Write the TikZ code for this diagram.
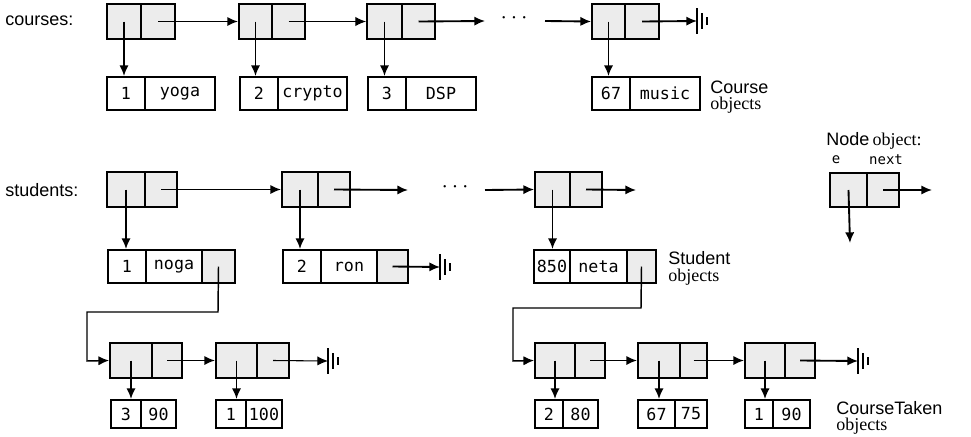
\documentclass[tikz,border=0pt]{standalone}
\usepackage{fontspec}
\setmainfont{Liberation Serif}
\newfontfamily\sans{Liberation Sans}
\newfontfamily\mono{DejaVu Sans Mono}
\usetikzlibrary{arrows.meta}
\newcommand\cellbox[7]{\node[draw,line width=1.4pt,fill=#6,inner sep=0pt,minimum width={(#3-#2)*0.75pt},minimum height={(#5-#4)*0.75pt},font=\mono\fontsize{12.5}{12.5}\selectfont] (#1) at ({(#2+#3)/2},{(#4+#5)/2}) {#7};}
\newcommand\gnd[3]{\coordinate (#1) at (#2,#3);
 \draw[line width=1pt] (#2,#3-13) -- (#2,#3+13) (#2+5,#3-8) -- (#2+5,#3+8) (#2+10,#3-4) -- (#2+10,#3+4);}
\tikzset{ar/.style={line width=1.4pt,-{Latex[length=8pt,width=7pt]}},
 lbl/.style={font=\sans\fontsize{13.5}{13.5}\selectfont,anchor=west,inner sep=0pt},
 obj/.style={font=\fontsize{13.5}{13.5}\selectfont,anchor=west,inner sep=0pt},
 dots/.style={font=\fontsize{18}{18}\selectfont,inner sep=0pt}}
\colorlet{cf}{gray!15}
\begin{document}
\begin{tikzpicture}[x=0.75pt,y=-0.75pt]
\useasboundingbox (0,0) rectangle (971,436);
% courses
\node[lbl] (lc) at (5,21) {courses:};
\cellbox{c1e}{107}{141}{4}{39}{cf}{}\cellbox{c1n}{141}{175}{4}{39}{cf}{}
\cellbox{c2e}{239}{272}{4}{39}{cf}{}\cellbox{c2n}{272}{305}{4}{39}{cf}{}
\cellbox{c3e}{367}{402}{4}{39}{cf}{}\cellbox{c3n}{402}{435}{4}{39}{cf}{}
\node[dots] (cd) at (514,18) {$\cdots$};
\cellbox{c4e}{592}{625}{4}{39}{cf}{}\cellbox{c4n}{625}{659}{4}{39}{cf}{}
\gnd{cg}{697}{21}
\draw[ar] (c1n.center) -- (c2e.west);
\draw[ar,line width=0.8pt] (c2n.center) -- (c3e.west);
\draw[ar] (c3n.center) -- (485,21);
\draw[ar] (545,21) -- (c4e.west);
\draw[ar] (c4n.center) -- (cg);
\cellbox{o1a}{107}{145}{77}{110}{white}{1}\cellbox{o1b}{145}{215}{77}{110}{white}{yoga}
\cellbox{o2a}{240}{278}{77}{110}{white}{2}\cellbox{o2b}{278}{347}{77}{110}{white}{crypto}
\cellbox{o3a}{368}{406}{77}{110}{white}{3}\cellbox{o3b}{406}{476}{77}{110}{white}{DSP}
\cellbox{o4a}{592}{630}{77}{110}{white}{67}\cellbox{o4b}{630}{700}{77}{110}{white}{music}
\draw[ar] (c1e.center) -- (c1e.center |- o1a.north);
\draw[ar] (c2e.center) -- (c2e.center |- o2a.north);
\draw[ar] (c3e.center) -- (c3e.center |- o3a.north);
\draw[ar] (c4e.center) -- (c4e.center |- o4a.north);
\node[lbl] (tc1) at (710,87) {Course};
\node[obj] (tc2) at (710,105) {objects};
% students
\node[lbl] (ls) at (5,190) {students:};
\cellbox{s1e}{107}{145}{172}{207}{cf}{}\cellbox{s1n}{145}{177}{172}{207}{cf}{}
\cellbox{s2e}{282}{318}{172}{207}{cf}{}\cellbox{s2n}{318}{350}{172}{207}{cf}{}
\node[dots] (sd) at (455,187) {$\cdots$};
\cellbox{s3e}{535}{570}{172}{207}{cf}{}\cellbox{s3n}{570}{602}{172}{207}{cf}{}
\draw[ar] (s1n.center) -- (s2e.west);
\draw[ar] (s2n.center) -- (408,190);
\draw[ar] (485,190) -- (s3e.west);
\draw[ar] (s3n.center) -- (636,190);
\cellbox{p1a}{108}{146}{250}{283}{white}{1}\cellbox{p1b}{146}{202}{250}{283}{white}{noga}\cellbox{p1c}{202}{235}{250}{283}{cf}{}
\cellbox{p2a}{283}{321}{250}{283}{white}{2}\cellbox{p2b}{321}{377}{250}{283}{white}{ron}\cellbox{p2c}{377}{408}{250}{283}{cf}{}
\cellbox{p3a}{534}{570}{250}{283}{white}{850}\cellbox{p3b}{570}{627}{250}{283}{white}{neta}\cellbox{p3c}{627}{656}{250}{283}{cf}{}
\draw[ar] (s1e.center) -- (s1e.center |- p1a.north);
\draw[ar] (s2e.center) -- (s2e.center |- p2a.north);
\draw[ar] (s3e.center) -- (s3e.center |- p3a.north);
\gnd{pg}{440}{267}
\draw[ar] (p2c.center) -- (pg);
\node[lbl] (ts1) at (668,258) {Student};
\node[obj] (ts2) at (668,277) {objects};
% course taken (noga)
\cellbox{k1e}{110}{152}{343}{378}{cf}{}\cellbox{k1n}{152}{182}{343}{378}{cf}{}
\cellbox{k2e}{216}{257}{343}{378}{cf}{}\cellbox{k2n}{257}{289}{343}{378}{cf}{}
\gnd{kg}{328}{361}
\draw[ar,line width=1.1pt] (p1c.center) -- (218,312) -- (87,312) -- (87,361) -- (k1e.west);
\draw[ar] (k1n.center) -- (k2e.west);
\draw[ar,line width=0.8pt] (k2n.center) -- (kg);
\cellbox{r1a}{111}{141}{400}{428}{white}{3}\cellbox{r1b}{141}{176}{400}{428}{white}{90}
\cellbox{r2a}{216}{246}{400}{428}{white}{1}\cellbox{r2b}{246}{282}{400}{428}{white}{100}
\draw[ar] (k1e.center) -- (k1e.center |- r1a.north);
\draw[ar] (k2e.center) -- (k2e.center |- r2a.north);
% course taken (neta)
\cellbox{m1e}{535}{575}{343}{378}{cf}{}\cellbox{m1n}{575}{605}{343}{378}{cf}{}
\cellbox{m2e}{638}{680}{343}{378}{cf}{}\cellbox{m2n}{680}{707}{343}{378}{cf}{}
\cellbox{m3e}{745}{785}{343}{378}{cf}{}\cellbox{m3n}{785}{815}{343}{378}{cf}{}
\gnd{mg}{858}{361}
\draw[ar,line width=1.1pt] (p3c.center) -- (641,308) -- (513,308) -- (513,361) -- (m1e.west);
\draw[ar] (m1n.center) -- (m2e.west);
\draw[ar] (m2n.center) -- (m3e.west);
\draw[ar] (m3n.center) -- (mg);
\cellbox{n1a}{535}{563}{400}{428}{white}{2}\cellbox{n1b}{563}{598}{400}{428}{white}{80}
\cellbox{n2a}{638}{675}{400}{428}{white}{67}\cellbox{n2b}{675}{707}{400}{428}{white}{75}
\cellbox{n3a}{745}{773}{400}{428}{white}{1}\cellbox{n3b}{773}{810}{400}{428}{white}{90}
\draw[ar] (m1e.center) -- (m1e.center |- n1a.north);
\draw[ar] (m2e.center) -- (m2e.center |- n2a.north);
\draw[ar] (m3e.center) -- (m3e.center |- n3a.north);
\node[lbl] (tk1) at (836,408) {CourseTaken};
\node[obj] (tk2) at (836,426) {objects};
% legend
\node[anchor=west,inner sep=0pt] (lg) at (826,141) {{\sans\fontsize{13.5}{13.5}\selectfont Node} {\fontsize{13.5}{13.5}\selectfont object:}};
\node[inner sep=0pt,font=\mono\fontsize{10.5}{10.5}\selectfont] (le) at (836,160) {e};
\node[inner sep=0pt,font=\mono\fontsize{10.5}{10.5}\selectfont] (lnx) at (886,160) {next};
\cellbox{g1e}{830}{867}{173}{207}{cf}{}\cellbox{g1n}{867}{899}{173}{207}{cf}{}
\coordinate (ge) at (850,243);
\coordinate (gn) at (932,190);
\draw[ar] (g1e.center) -- (ge);
\draw[ar] (g1n.center) -- (gn);
\end{tikzpicture}
\end{document}
